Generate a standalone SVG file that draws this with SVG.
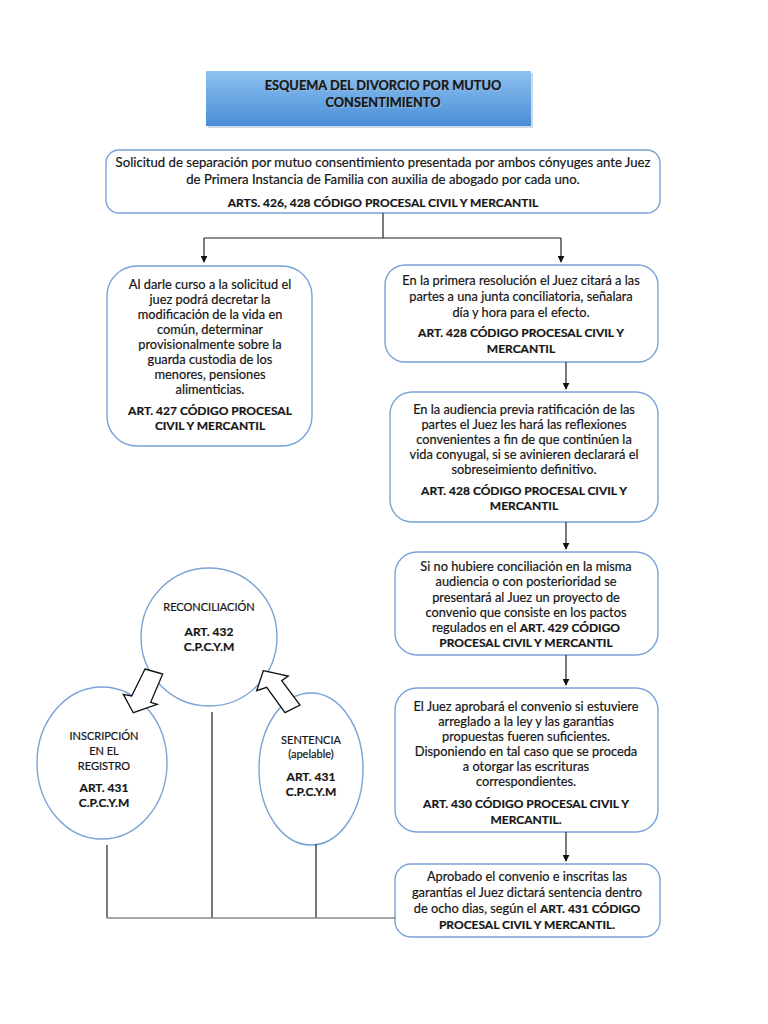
<svg xmlns="http://www.w3.org/2000/svg" width="768" height="1024" viewBox="0 0 768 1024">
<defs>
<linearGradient id="tg" x1="0" y1="0" x2="0" y2="1">
<stop offset="0" stop-color="#8fc2f0"/>
<stop offset="0.5" stop-color="#6aa7e4"/>
<stop offset="1" stop-color="#4b8dd6"/>
</linearGradient>
<marker id="ah" viewBox="0 0 10 10" refX="9" refY="5" markerWidth="7" markerHeight="7" orient="auto" markerUnits="userSpaceOnUse">
<path d="M0,0 L10,5 L0,10 z" fill="#111"/>
</marker>
<style>
.box{fill:#fff;stroke:#7aa3d6;stroke-width:1.4}
.t{font-family:Lato,"Liberation Sans",sans-serif;font-size:12.8px;fill:#151515;stroke:#151515;stroke-width:0.2;text-anchor:middle}
.b{font-weight:bold;font-size:12px}
.big{font-size:13.15px}
.e{font-size:11px}
.ttl{font-size:12.8px}
.sh{fill:#9ab6d2;stroke:none}
.ln{stroke:#222;stroke-width:1.2;fill:none}
.ga{stroke:#888;stroke-width:1.4;fill:none}
.blk{fill:#fff;stroke:#111;stroke-width:1.3;stroke-linejoin:miter}
</style>
</defs>
<rect width="768" height="1024" fill="#fff"/>

<g id="title">
<rect x="208" y="73" width="325" height="55" fill="#9fb8d0" opacity="0.5"/>
<rect x="206" y="71" width="325" height="55" fill="url(#tg)"/>
<text class="t b ttl sh" x="384" y="90.5">ESQUEMA DEL DIVORCIO POR MUTUO</text>
<text class="t b ttl" x="383" y="89.5">ESQUEMA DEL DIVORCIO POR MUTUO</text>
<text class="t b ttl sh" x="384" y="108">CONSENTIMIENTO</text>
<text class="t b ttl" x="383" y="107">CONSENTIMIENTO</text>
</g>

<g id="n1">
<rect class="box" x="106" y="150" width="554" height="63" rx="13"/>
<text class="t big" x="383" y="167">Solicitud de separación por mutuo consentimiento presentada por ambos cónyuges ante Juez</text>
<text class="t big" x="383" y="184">de Primera Instancia de Familia con auxilia de abogado por cada uno.</text>
<text class="t b" x="383" y="207">ARTS.  426, 428 CÓDIGO PROCESAL CIVIL Y MERCANTIL</text>
</g>

<g id="n2">
<rect class="box" x="107" y="266" width="205" height="180" rx="30"/>
<text class="t" x="210" y="289">Al darle curso a la solicitud el</text>
<text class="t" x="210" y="304">juez podrá decretar la</text>
<text class="t" x="210" y="319">modificación de la vida en</text>
<text class="t" x="210" y="334">común, determinar</text>
<text class="t" x="210" y="349">provisionalmente sobre la</text>
<text class="t" x="210" y="364">guarda custodia de los</text>
<text class="t" x="210" y="379">menores, pensiones</text>
<text class="t" x="210" y="394">alimenticias.</text>
<text class="t b" x="210" y="415">ART. 427 CÓDIGO PROCESAL</text>
<text class="t b" x="210" y="430">CIVIL Y MERCANTIL</text>
</g>

<g id="n3">
<rect class="box" x="385" y="265" width="273" height="97" rx="20"/>
<text class="t" x="521" y="285">En la primera resolución el Juez citará a las</text>
<text class="t" x="521" y="301">partes a una junta conciliatoria, señalara</text>
<text class="t" x="521" y="317">día y hora para el efecto.</text>
<text class="t b" x="521" y="337">ART. 428 CÓDIGO PROCESAL CIVIL Y</text>
<text class="t b" x="521" y="353">MERCANTIL</text>
</g>

<g id="n4">
<rect class="box" x="390" y="392" width="268" height="130" rx="22"/>
<text class="t" x="524" y="414">En la audiencia previa ratificación de las</text>
<text class="t" x="524" y="429">partes el Juez les hará las reflexiones</text>
<text class="t" x="524" y="444">convenientes a fin de que continúen la</text>
<text class="t" x="524" y="459">vida conyugal, si se avinieren declarará el</text>
<text class="t" x="524" y="474">sobreseimiento definitivo.</text>
<text class="t b" x="524" y="495">ART. 428 CÓDIGO PROCESAL CIVIL Y</text>
<text class="t b" x="524" y="510">MERCANTIL</text>
</g>

<g id="n5">
<rect class="box" x="395" y="552" width="263" height="103" rx="22"/>
<text class="t" x="526" y="571">Si no hubiere conciliación en la misma</text>
<text class="t" x="526" y="586">audiencia o con posterioridad se</text>
<text class="t" x="526" y="602">presentará al Juez un proyecto de</text>
<text class="t" x="526" y="617">convenio que consiste en los pactos</text>
<text class="t" x="526" y="632">regulados en el <tspan class="b">ART. 429 CÓDIGO</tspan></text>
<text class="t b" x="526" y="647">PROCESAL CIVIL Y MERCANTIL</text>
</g>

<g id="n6">
<rect class="box" x="395" y="688" width="263" height="144" rx="22"/>
<text class="t" x="526" y="711">El Juez aprobará el convenio si estuviere</text>
<text class="t" x="526" y="726">arreglado a la ley y las garantias</text>
<text class="t" x="526" y="741">propuestas fueren suficientes.</text>
<text class="t" x="526" y="756">Disponiendo en tal caso que se proceda</text>
<text class="t" x="526" y="771">a otorgar las escrituras</text>
<text class="t" x="526" y="786">correspondientes.</text>
<text class="t b" x="526" y="808">ART. 430 CÓDIGO PROCESAL CIVIL Y</text>
<text class="t b" x="526" y="824">MERCANTIL.</text>
</g>

<g id="n7">
<rect class="box" x="395" y="864" width="265" height="73" rx="16"/>
<text class="t" x="527" y="881">Aprobado el convenio e inscritas las</text>
<text class="t" x="527" y="897">garantías el Juez dictará sentencia dentro</text>
<text class="t" x="527" y="913">de ocho dias, según el <tspan class="b">ART. 431 CÓDIGO</tspan></text>
<text class="t b" x="527" y="929">PROCESAL CIVIL Y MERCANTIL.</text>
</g>

<g id="n8">
<ellipse class="box" cx="209" cy="637" rx="68" ry="69"/>
<text class="t e" x="209" y="611">RECONCILIACIÓN</text>
<text class="t b" x="209" y="636">ART. 432</text>
<text class="t b" x="209" y="651">C.P.C.Y.M</text>
</g>

<g id="n9">
<ellipse class="box" cx="102" cy="763" rx="65" ry="76"/>
<text class="t e" x="104" y="740">INSCRIPCIÓN</text>
<text class="t e" x="104" y="755">EN EL</text>
<text class="t e" x="104" y="770">REGISTRO</text>
<text class="t b" x="104" y="792">ART. 431</text>
<text class="t b" x="104" y="807">C.P.C.Y.M</text>
</g>

<g id="n10">
<ellipse class="box" cx="311" cy="769" rx="52" ry="76"/>
<text class="t e" x="311" y="744">SENTENCIA</text>
<text class="t e" x="311" y="758">(apelable)</text>
<text class="t b" x="311" y="781">ART. 431</text>
<text class="t b" x="311" y="796">C.P.C.Y.M</text>
</g>

<g id="connectors">
<path class="ln" d="M383,213 V238 M204,238 H561"/>
<path class="ln" d="M204,238 V262" marker-end="url(#ah)"/>
<path class="ln" d="M561,238 V262" marker-end="url(#ah)"/>
<path class="ln" d="M566,362 V389" marker-end="url(#ah)"/>
<path class="ln" d="M566,522 V549" marker-end="url(#ah)"/>
<path class="ln" d="M566,655 V685" marker-end="url(#ah)"/>
<path class="ln" d="M566,832 V861" marker-end="url(#ah)"/>
<path class="ln" d="M107,845 V918 M212,712 V918 M316,844 V918"/>
<path class="ga" d="M107,918 H396"/>
<polygon class="blk" points="145,669 162.7,674 150.7,702.3 157.3,704.3 133.3,712.7 123.3,694.3 131.7,696"/>
<polygon class="blk" points="263.3,670.7 288.3,676 281.7,680.7 300,705 285,712.7 266.7,687.3 256.7,690.7"/>
</g>
</svg>
